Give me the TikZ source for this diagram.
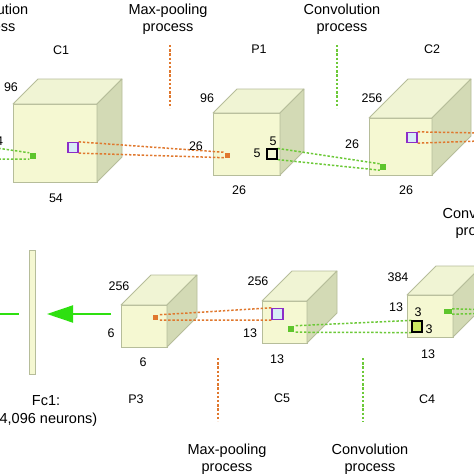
\documentclass[tikz,border=0pt]{standalone}
\usepackage{fontspec}
\setmainfont{Liberation Sans}
\usetikzlibrary{arrows.meta}
\definecolor{frontc}{HTML}{F5F8D2}
\definecolor{topc}{HTML}{F0F4D4}
\definecolor{sidec}{HTML}{D3DAB5}
\definecolor{edgec}{HTML}{B6BD9A}
\definecolor{purp}{HTML}{8C2EC8}
\definecolor{lblue}{HTML}{D8ECF7}
\definecolor{orng}{HTML}{E0782E}
\definecolor{grn}{HTML}{6CC938}
\definecolor{sqgrn}{HTML}{5EC52C}
\definecolor{brightg}{HTML}{2EE010}
\definecolor{lgfill}{HTML}{C9E860}
\tikzset{
  front/.style={draw=edgec, fill=frontc, line width=0.8pt, inner sep=0pt, outer sep=0pt},
  topf/.style={draw=edgec, fill=topc, line width=0.8pt, line join=round},
  sidef/.style={draw=edgec, fill=sidec, line width=0.8pt, line join=round},
  purpsq/.style={draw=purp, fill=lblue, line width=1.3pt, minimum width=10pt, minimum height=10pt, inner sep=0pt},
  blksq/.style={draw=black, fill=frontc, line width=1.2pt, minimum width=10pt, minimum height=10pt, inner sep=0pt},
  blkgsq/.style={draw=black, fill=lgfill, line width=1.2pt, minimum width=10pt, minimum height=10pt, inner sep=0pt},
  osq/.style={fill=orng, minimum width=5pt, minimum height=5pt, inner sep=0pt},
  gsq/.style={fill=sqgrn, minimum width=6pt, minimum height=6pt, inner sep=0pt},
  odot/.style={draw=orng, line width=1.5pt, dash pattern=on 2.4pt off 1.8pt},
  gdot/.style={draw=grn, line width=1.5pt, dash pattern=on 2.4pt off 1.8pt},
  lbl/.style={font=\fontsize{12.5}{14}\selectfont, inner sep=0pt},
  proc/.style={font=\fontsize{14.5}{17.5}\selectfont, align=center, inner sep=0pt},
  bigarrow/.style={draw=brightg, line width=2pt, -{Triangle[length=26pt,width=17pt]}},
}
\newcommand\cubefaces[4]{%
  \filldraw[topf] (#1.north west) -- ++(#2,-#2) -- ++(#3,0) -- (#1.north east) -- cycle;
  \filldraw[sidef] (#1.north east) -- ++(#2,-#2) -- ++(0,#4) -- (#1.south east) -- cycle;}
\begin{document}
\begin{tikzpicture}[x=1pt,y=-1pt]
\useasboundingbox (0,0) rectangle (474,474);
\clip (0,0) rectangle (474,474);
\fill[white] (0,0) rectangle (474,474);

% ---------- process labels ----------
\node[proc] (pr1) at (-10,19) {Convolution\\process};
\node[proc] (pr2) at (168,19) {Max-pooling\\process};
\node[proc] (pr3) at (342,19) {Convolution\\process};
\node[proc] (pr4) at (481,223) {Convolution\\process};
\node[proc] (pr5) at (227,459) {Max-pooling\\process};
\node[proc] (pr6) at (370,459) {Convolution\\process};

% separators
\coordinate (s1a) at (170,45); \coordinate (s1b) at (170,108);
\coordinate (s2a) at (337,45); \coordinate (s2b) at (337,108);
\coordinate (s3a) at (218,358); \coordinate (s3b) at (218,421);
\coordinate (s4a) at (363,358); \coordinate (s4b) at (363,422);
\draw[odot] (s1a) -- (s1b);
\draw[gdot] (s2a) -- (s2b);
\draw[odot] (s3a) -- (s3b);
\draw[gdot] (s4a) -- (s4b);

% ---------- cubes ----------
\node[front, minimum width=84pt, minimum height=78pt] (C1) at (55,143) {};
\cubefaces{C1}{25}{84}{78}
\node[front, minimum width=67pt, minimum height=62pt] (P1) at (246.5,144) {};
\cubefaces{P1}{24}{67}{62}
\node[front, minimum width=63pt, minimum height=57pt] (C2) at (400.5,146.5) {};
\cubefaces{C2}{39}{63}{57}
\node[front, minimum width=46pt, minimum height=42pt] (P3) at (144,326) {};
\cubefaces{P3}{30}{46}{42}
\node[front, minimum width=45pt, minimum height=42pt] (C5) at (284.5,322) {};
\cubefaces{C5}{30}{45}{42}
\node[front, minimum width=46pt, minimum height=42pt] (C4) at (430,316) {};
\cubefaces{C4}{29}{46}{42}

% Fc1 bar
\node[draw=edgec, fill=frontc, line width=0.8pt, minimum width=6pt, minimum height=124pt, inner sep=0pt] (Fc1) at (32,312) {};

% ---------- small squares (positions) ----------
\coordinate (c1pc) at (73,147.5);
\coordinate (c1gc) at (32.5,156);
\coordinate (p1oc) at (227,155);
\coordinate (p1bc) at (272,154);
\coordinate (c2gc) at (383,167);
\coordinate (c2pc) at (412,137.5);
\coordinate (p3oc) at (155.5,317.5);
\coordinate (c5pc) at (277.5,314);
\coordinate (c5gc) at (291,329);
\coordinate (c4bc) at (417,326.5);
\coordinate (c4gc) at (448,311.5);

% invisible anchors for connectors
\node[purpsq, draw=none, fill=none] (c1p) at (c1pc) {};
\node[gsq, fill=none] (c1g) at (c1gc) {};
\node[osq, fill=none] (p1o) at (p1oc) {};
\node[blksq, draw=none, fill=none] (p1b) at (p1bc) {};
\node[gsq, fill=none] (c2g) at (c2gc) {};
\node[purpsq, draw=none, fill=none] (c2p) at (c2pc) {};
\node[osq, fill=none] (p3o) at (p3oc) {};
\node[purpsq, draw=none, fill=none, minimum width=11pt, minimum height=11pt] (c5p) at (c5pc) {};
\node[gsq, fill=none] (c5g) at (c5gc) {};
\node[blkgsq, draw=none, fill=none, minimum height=11pt] (c4b) at (c4bc) {};
\node[minimum width=8pt, minimum height=5pt, inner sep=0pt] (c4g) at (c4gc) {};

% ---------- dotted connectors ----------
\coordinate (l1) at (-10,147); \coordinate (l2) at (-10,159);
\draw[gdot] (l1) -- (c1g.north west);
\draw[gdot] (l2) -- (c1g.south west);
\draw[odot] (c1p.north east) -- (p1o.north west);
\draw[odot] (c1p.south east) -- (p1o.south west);
\draw[gdot] (p1b.north east) -- (c2g.north west);
\draw[gdot] (p1b.south east) -- (c2g.south west);
\coordinate (r1) at (480,133); \coordinate (r2) at (480,141);
\draw[odot] (c2p.north east) -- (r1);
\draw[odot] (c2p.south east) -- (r2);
\draw[odot] (c5p.north west) -- (p3o.north east);
\draw[odot] (c5p.south west) -- (p3o.south east);
\draw[gdot] (c4b.north west) -- (c5g.north east);
\draw[gdot] (c4b.south west) -- (c5g.south east);
\coordinate (r3) at (480,309.5); \coordinate (r4) at (480,313.5);
\draw[gdot] (c4g.north east) -- (r3);
\draw[gdot] (c4g.south east) -- (r4);

% visible squares on top
\node[purpsq] (c1ps) at (c1pc) {};
\node[gsq] (c1gs) at (c1gc) {};
\node[osq] (p1os) at (p1oc) {};
\node[blksq] (p1bs) at (p1bc) {};
\node[gsq] (c2gs) at (c2gc) {};
\node[purpsq] (c2ps) at (c2pc) {};
\node[osq] (p3os) at (p3oc) {};
\node[purpsq, minimum width=11pt, minimum height=11pt] (c5ps) at (c5pc) {};
\node[gsq] (c5gs) at (c5gc) {};
\node[blkgsq, minimum height=11pt] (c4bs) at (c4bc) {};
\node[fill=sqgrn, minimum width=8pt, minimum height=5pt, inner sep=0pt] (c4gs) at (c4gc) {};

% ---------- arrows to Fc1 ----------
\coordinate (aS) at (111,314); \coordinate (aE) at (47,314);
\draw[bigarrow] (aS) -- (aE);
\coordinate (g1) at (-5,314); \coordinate (g2) at (19,314);
\draw[draw=brightg, line width=2pt] (g1) -- (g2);

% ---------- labels ----------
\node[lbl] (tC1) at (61,50) {C1};
\node[lbl] (tP1) at (259,49) {P1};
\node[lbl] (tC2) at (432,49) {C2};
\node[lbl] (n96a) at (11,87) {96};
\node[lbl] (n96b) at (207,98) {96};
\node[lbl] (n256a) at (372,98) {256};
\node[lbl] (n26a) at (196,146) {26};
\node[lbl] (n26b) at (352,144) {26};
\node[lbl] (n54) at (56,198) {54};
\node[lbl] (n26c) at (239,190) {26};
\node[lbl] (n26d) at (406,190) {26};
\node[lbl] (n5a) at (273,141) {5};
\node[lbl] (n5b) at (257,153) {5};
\node[lbl] (n4) at (-0.5,141) {4};

\node[lbl] (n256b) at (119,286) {256};
\node[lbl] (n6a) at (111,333) {6};
\node[lbl] (n6b) at (143,362) {6};
\node[lbl] (tP3) at (136,399) {P3};
\node[lbl] (n256c) at (258,281) {256};
\node[lbl] (n13a) at (250,333) {13};
\node[lbl] (n13b) at (277,359) {13};
\node[lbl] (tC5) at (282,398) {C5};
\node[lbl] (n384) at (398,277) {384};
\node[lbl] (n13c) at (396,307) {13};
\node[lbl] (n3a) at (418,312) {3};
\node[lbl] (n3b) at (429,329) {3};
\node[lbl] (n13d) at (428,354) {13};
\node[lbl] (tC4) at (427,399) {C4};
\node[proc] (tFc1) at (46,411) {Fc1:\\(4,096 neurons)};
\end{tikzpicture}
\end{document}
